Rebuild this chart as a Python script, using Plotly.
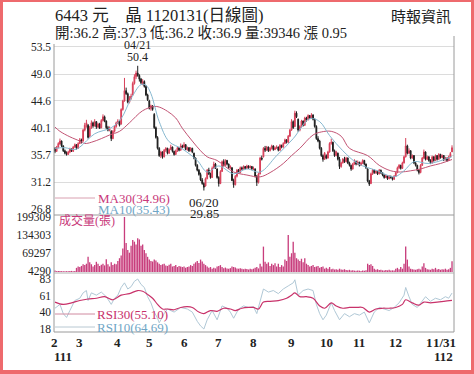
import plotly.graph_objects as go

# ---------------- data ----------------
opens = [36.8,36.3,37.0,37.5,38.0,37.2,36.4,36.0,35.8,36.2,36.7,36.3,37.0,37.4,36.8,
         37.6,38.2,38.0,39.8,40.6,40.6,38.8,40.2,41.0,40.5,41.2,40.3,40.8,40.2,41.4,42.0,41.3,40.2,39.8,39.6,38.4,39.6,40.4,
         41.0,41.3,40.8,43.2,44.6,46.3,45.8,44.4,45.0,45.6,47.5,48.6,49.2,48.8,48.2,47.4,47.8,47.0,45.6,
         44.6,43.4,43.8,42.4,40.2,38.6,36.8,35.6,36.2,35.4,36.5,36.8,36.0,36.6,37.0,36.3,35.8,36.4,36.9,36.5,37.2,
         37.0,37.4,36.6,36.9,36.4,36.8,36.0,35.2,34.0,33.2,32.5,31.6,31.0,30.6,31.8,33.2,32.6,32.0,33.5,34.2,33.4,
         32.0,31.0,33.0,34.6,34.0,34.8,34.2,33.6,33.6,31.5,30.8,32.2,33.2,32.8,33.6,33.4,33.8,33.5,33.9,33.6,33.8,
         33.4,33.4,32.2,31.2,32.6,35.2,35.4,36.8,36.5,37.0,36.4,36.8,37.2,36.6,36.9,37.0,36.5,37.3,37.0,37.6,38.2,37.8,38.8,
         39.8,41.2,40.4,42.6,41.6,39.8,40.4,41.3,40.6,41.8,41.5,42.2,41.8,42.3,41.6,40.4,38.4,38.0,36.8,35.6,35.0,
         35.6,35.2,36.2,37.6,37.8,36.4,35.6,36.0,35.0,33.8,34.4,35.0,34.6,35.2,34.4,34.0,33.4,34.2,34.6,34.2,
         34.5,34.0,34.4,34.8,34.2,33.4,31.4,31.0,32.6,33.2,32.8,33.0,32.6,33.2,32.8,32.4,32.0,32.3,31.8,32.2,32.0,31.7,
         32.2,32.8,33.6,34.0,33.5,34.4,35.4,37.2,36.0,36.4,35.2,35.6,34.4,34.0,33.2,32.8,34.0,35.2,36.2,35.0,35.4,34.8,
         34.4,35.4,34.8,35.6,35.0,35.8,35.3,35.6,34.9,35.2,34.8,35.4,36.2]
highs = [37.0,37.2,37.8,38.4,38.1,37.3,36.6,36.3,36.4,36.9,36.8,37.2,37.6,37.5,37.8,
         38.5,38.4,40.0,41.0,41.5,40.8,40.5,41.4,41.2,41.6,41.3,41.0,41.0,41.6,42.4,42.2,41.4,40.5,40.4,39.8,39.8,40.6,41.2,
         41.6,41.5,43.4,44.8,48.4,46.8,46.0,45.4,45.8,47.8,49.0,49.6,50.4,49.0,48.4,48.2,48.0,47.2,45.8,
         44.8,44.0,43.9,42.6,40.4,38.8,37.0,36.4,36.3,36.7,37.0,36.9,36.8,37.4,37.1,36.4,36.6,37.1,37.0,37.6,37.4,
         37.8,37.5,37.1,37.0,37.0,36.9,36.1,35.3,34.2,33.4,32.8,31.9,31.2,32.0,33.4,33.6,32.8,33.8,34.6,34.4,33.5,
         32.2,33.2,34.8,35.0,35.0,34.9,34.3,34.0,33.7,31.8,32.4,33.4,33.4,33.8,33.8,34.0,33.9,34.1,34.0,34.0,33.9,
         33.8,33.5,32.4,32.8,35.4,35.6,37.0,37.2,37.2,37.1,37.0,37.4,37.3,37.1,37.3,37.1,37.5,37.4,37.8,38.4,38.3,39.0,40.0,
         41.6,41.4,43.0,42.9,41.7,40.6,41.5,41.4,42.0,42.0,42.4,42.3,42.6,42.4,41.7,40.6,38.8,38.2,37.0,35.8,36.2,
         35.8,36.4,37.8,38.4,37.9,36.6,36.4,36.1,35.4,34.6,35.2,35.4,35.4,35.3,34.6,34.1,34.4,35.0,34.8,34.8,
         34.6,34.6,35.0,34.9,34.3,33.5,31.6,32.8,33.4,33.3,33.2,33.1,33.4,33.3,32.9,32.5,32.5,32.4,32.4,32.3,32.1,32.4,
         33.0,33.8,34.2,34.1,34.6,35.6,38.5,37.4,36.8,36.5,35.8,35.7,34.6,34.1,33.4,34.2,35.4,36.6,36.3,35.6,35.5,35.0,
         35.6,35.5,35.8,35.7,36.0,35.9,35.8,35.7,35.4,35.3,35.6,36.2,37.3]
lows = [36.0,36.2,36.8,37.4,37.0,36.2,35.8,35.6,35.7,36.0,36.2,36.2,36.9,36.6,36.7,
        37.5,37.6,37.9,39.6,40.2,38.4,38.6,40.0,40.2,40.4,40.0,40.1,40.0,40.1,41.2,41.1,40.0,39.6,39.6,38.0,38.3,39.4,40.2,
        40.8,40.4,40.7,43.0,44.5,45.6,44.2,44.2,44.8,45.5,47.3,48.2,48.6,47.8,47.4,47.2,46.8,45.4,44.6,
        43.2,43.0,43.0,40.0,38.4,36.6,35.4,35.2,35.1,35.3,36.2,35.8,35.9,36.5,36.1,35.6,35.7,36.2,36.3,36.4,36.8,
        36.9,36.5,36.4,36.2,36.3,36.0,35.0,33.8,33.0,32.3,31.4,30.8,29.85,30.5,31.7,32.4,31.8,31.9,33.4,33.4,31.8,
        30.5,30.9,32.9,33.8,33.9,34.0,33.4,33.4,31.4,30.3,30.7,32.0,32.6,32.7,33.2,33.3,33.3,33.4,33.4,33.5,33.2,
        33.2,32.0,30.6,31.0,32.5,34.8,35.3,36.2,36.4,36.2,36.3,36.6,36.4,36.5,36.7,36.3,36.4,36.8,36.9,37.5,37.6,37.7,38.7,
        39.7,40.0,40.3,41.8,39.5,39.6,40.2,40.4,40.5,41.2,41.4,41.6,41.7,41.4,40.2,38.2,37.8,36.6,35.4,34.6,34.9,
        35.0,35.1,36.1,37.4,36.2,35.4,35.5,34.8,33.4,33.6,34.3,34.4,34.5,34.2,33.8,33.1,33.3,34.1,34.0,34.1,
        33.8,33.9,34.2,34.0,33.4,31.2,30.6,30.9,32.4,32.6,32.6,32.4,32.5,32.6,32.2,31.8,31.9,31.6,31.7,31.8,31.5,31.6,
        32.1,32.7,33.4,33.3,33.4,34.3,35.3,35.8,35.9,35.0,35.1,34.2,33.8,33.0,32.5,32.7,33.9,35.0,34.8,34.9,34.6,34.2,
        34.3,34.6,34.7,34.8,34.9,35.1,35.2,34.7,34.8,34.6,34.7,35.3,36.2]
closes = [36.3,37.0,37.6,38.0,37.2,36.4,36.0,35.8,36.2,36.7,36.4,37.0,37.4,36.8,37.6,
          38.2,37.9,39.8,40.6,41.0,38.6,40.2,41.0,40.5,41.2,40.3,40.8,40.1,41.4,42.0,41.3,40.2,39.8,40.0,38.4,39.6,40.4,41.0,
          41.3,40.6,43.2,44.6,46.3,45.8,44.4,45.0,45.4,47.5,48.6,49.2,48.8,48.2,47.6,47.8,47.0,45.6,44.8,
          43.4,43.8,43.2,40.2,38.6,36.8,35.6,36.2,35.4,36.5,36.8,36.0,36.6,37.0,36.3,35.8,36.4,36.9,36.5,37.2,37.0,
          37.4,36.6,36.9,36.4,36.8,36.2,35.2,34.0,33.2,32.5,31.6,31.0,30.4,31.8,33.2,32.6,32.0,33.5,34.2,33.6,32.0,
          31.0,33.0,34.6,34.0,34.8,34.2,33.6,33.8,31.5,30.8,32.2,33.2,32.8,33.6,33.4,33.8,33.5,33.9,33.6,33.8,33.4,
          33.5,32.2,31.2,32.6,35.2,35.0,36.8,36.5,37.0,36.4,36.8,37.2,36.6,36.9,37.0,36.5,37.3,37.0,37.6,38.2,37.8,38.8,39.8,
          41.2,40.2,42.6,42.0,39.8,40.4,41.3,40.6,41.8,41.5,42.2,41.8,42.3,41.6,40.4,38.4,38.0,36.8,35.6,35.0,36.0,
          35.2,36.2,37.6,37.8,36.4,35.6,36.2,35.0,33.8,34.4,35.0,34.6,35.2,34.4,34.0,33.4,34.2,34.6,34.2,34.5,
          34.0,34.4,34.8,34.2,33.6,31.4,30.9,32.6,33.2,32.8,33.0,32.6,33.2,32.8,32.4,32.0,32.3,31.8,32.2,32.0,31.7,32.2,
          32.8,33.6,34.0,33.5,34.4,35.4,37.2,36.0,36.4,35.2,35.6,34.4,34.0,33.2,32.8,34.0,35.2,36.2,35.0,35.4,34.8,34.4,
          35.4,34.8,35.6,35.0,35.8,35.3,35.6,34.9,35.2,34.8,35.4,35.95,36.9]
volumes = [5000,3000,4000,3500,3000,3000,2500,3000,2500,3500,4000,3000,3500,15000,20000,
           18000,22000,28000,25000,30000,55000,35000,28000,20000,25000,37000,30000,22000,26000,30000,24000,46000,28000,20000,35000,25000,30000,28000,
           40000,50000,60000,85000,199309,105000,80000,70000,95000,116000,110000,100000,122000,118000,95000,100000,80000,68000,55000,
           45000,40000,38000,45000,42000,35000,30000,25000,28000,30000,24000,22000,26000,30000,20000,22000,25000,18000,22000,20000,18000,
           20000,15000,18000,20000,25000,22000,30000,35000,40000,33000,45000,38000,30000,25000,20000,15000,18000,12000,15000,13000,20000,
           22000,25000,18000,14000,16000,13000,12000,14000,20000,18000,16000,13000,12000,14000,12000,10000,12000,11000,9000,12000,10000,
           12000,15000,18000,13000,30000,20000,92000,37000,30000,35000,22000,30000,25000,32000,20000,30000,18000,25000,20000,45000,40000,134000,55000,
           68000,110000,70000,50000,45000,40000,48000,35000,50000,30000,25000,20000,22000,25000,18000,20000,22000,15000,18000,20000,12000,
           15000,12000,18000,10000,12000,9000,10000,8000,12000,9000,8000,10000,7000,6000,8000,5000,6000,5000,4500,5000,
           5000,4000,5000,4500,6000,30000,25000,28000,22000,12000,8000,10000,7000,8000,6000,5000,7000,6000,8000,5000,6000,5000,
           12000,15000,10000,18000,12000,30000,92000,45000,20000,12000,10000,9000,8000,10000,12000,9000,20000,32000,15000,10000,9000,8000,
           12000,10000,15000,9000,11000,8000,10000,9000,12000,8000,10000,15000,39346]

ma30_idx = [0,3,9,15,18,22,28,33,39,45,53,60,63,68,73,77,83,88,92,98,103,108,116,124,130,138,143,148,156,161,167,173,178,189,196,203,209,215,221,227,233,240]
ma30_val = [40.3,39.6,38.7,38.0,37.6,37.8,38.4,39.0,39.6,41.0,43.0,43.7,43.6,42.9,41.8,40.1,38.0,36.4,35.4,34.8,33.8,32.9,32.4,32.1,32.8,34.3,35.6,36.8,39.0,39.5,39.6,38.8,36.8,35.6,34.0,33.1,32.9,33.1,33.4,33.9,34.3,34.96]
ma10_idx = [0,6,12,15,24,34,40,46,52,55,58,63,69,77,86,92,99,108,116,124,134,144,154,160,166,174,183,195,205,211,217,226,240]
ma10_val = [36.8,36.9,36.6,37.0,39.2,40.2,41.7,45.0,47.3,47.2,45.8,41.2,37.9,36.7,34.8,32.9,33.9,32.6,33.4,32.9,35.6,38.4,41.7,41.2,38.9,36.4,34.3,33.1,32.1,33.1,34.6,34.3,35.43]

rsi10_idx = [0,3,5,7,9,12,15,17,19,20,22,25,28,31,34,36,38,40,42,44,46,48,50,52,54,56,58,60,62,63,66,68,72,76,80,83,86,88,90,92,95,98,101,104,106,108,111,114,117,120,122,124,126,129,132,135,138,141,144,145,147,150,153,156,158,160,162,164,167,169,172,175,178,181,184,187,189,190,193,196,199,202,205,208,211,212,214,216,219,222,224,227,230,233,236,238,240]
rsi10_val = [45,50,38,33,42,55,58,65,68,55,65,62,66,60,50,58,62,72,78,70,73,80,83,76,72,60,52,40,32,26,38,44,40,46,44,40,28,22,18,30,42,30,48,45,40,32,44,48,46,47,38,55,70,66,68,64,70,74,78,82,62,68,70,68,50,38,30,36,52,42,30,38,34,38,36,40,32,26,40,46,44,42,46,52,62,72,60,50,46,55,60,54,58,56,60,58,64.69]
rsi30_idx = [0,5,10,15,20,25,30,35,40,45,50,53,56,59,62,65,68,72,76,80,83,87,90,94,98,102,106,109,113,117,120,123,126,130,135,140,143,145,148,152,156,160,163,167,170,174,178,182,186,190,194,198,202,206,210,212,216,220,223,227,231,235,240]
rsi30_val = [53,50,52,55,57,58,60,56,62,64,68,67,63,58,50,44,44,43,46,47,46,40,38,42,41,45,44,42,45,46,46,44,53,54,55,58,62,65,60,60,58,48,45,52,48,45,46,46,46,40,44,45,45,46,50,56,52,49,53,52,53,54,55.10]

month_idx = [0,15,38,57,78,99,120,143,164,184,206,228]
month_lbl = ["2","3","4","5","6","7","8","9","10","11","12","1"]
price_ticks = [26.8,31.2,35.7,40.1,44.6,49.0,53.5]
vol_ticks = [4290,69297,134303,199309]
rsi_ticks = [18,40,61,83]

header1 = "6443 元　晶 1120131(日線圖)"
header2 = "開:36.2 高:37.3 低:36.2 收:36.9 量:39346 漲 0.95"
source = "時報資訊"

# ---------------- styling ----------------
SERIF = "Liberation Serif, Noto Sans CJK TC, serif"
RED = "#d8405a"
BLK = "#1e1e1e"
MA30C = "#c25474"
MA10C = "#86b8d0"
VOLC = "#c83d7c"
RSI30C = "#c8326a"
RSI10C = "#b0c8d6"
BORDER = "#ee6a6d"

days = list(range(len(closes)))

fig = go.Figure()
fig.add_trace(go.Candlestick(
    x=days, open=opens, high=highs, low=lows, close=closes,
    increasing=dict(line=dict(color=RED, width=1), fillcolor=RED),
    decreasing=dict(line=dict(color=BLK, width=1), fillcolor=BLK),
    whiskerwidth=0, xaxis="x", yaxis="y", showlegend=False, hoverinfo="skip"))
fig.add_trace(go.Scatter(x=ma30_idx, y=ma30_val, mode="lines", line=dict(color=MA30C, width=1, shape="spline"),
                         xaxis="x", yaxis="y", showlegend=False, hoverinfo="skip"))
fig.add_trace(go.Scatter(x=ma10_idx, y=ma10_val, mode="lines", line=dict(color=MA10C, width=1, shape="spline"),
                         xaxis="x", yaxis="y", showlegend=False, hoverinfo="skip"))
fig.add_trace(go.Bar(x=days, y=volumes, marker=dict(color=VOLC, line=dict(width=0)),
                     xaxis="x", yaxis="y2", showlegend=False, hoverinfo="skip"))
fig.add_trace(go.Scatter(x=rsi10_idx, y=rsi10_val, mode="lines", line=dict(color=RSI10C, width=1),
                         xaxis="x", yaxis="y3", showlegend=False, hoverinfo="skip"))
fig.add_trace(go.Scatter(x=rsi30_idx, y=rsi30_val, mode="lines", line=dict(color=RSI30C, width=1.2, shape="spline"),
                         xaxis="x", yaxis="y3", showlegend=False, hoverinfo="skip"))

# pixel helpers (plot area: x 54..454, y 44..332)
def pxx(x):
    return (x - 54) / 400.0
def pyy(y):
    return (332 - y) / 288.0

tickfont = dict(family=SERIF, size=11.5, color="#222")
fig.update_layout(
    width=474, height=374,
    margin=dict(l=54, r=20, t=44, b=42),
    paper_bgcolor="white", plot_bgcolor="white",
    bargap=0.2,
    xaxis=dict(range=[-0.6, 241.2], domain=[0, 1], anchor="y3",
               tickvals=month_idx, ticktext=month_lbl, showticklabels=False,
               showgrid=False, zeroline=False, showline=False,
               rangeslider=dict(visible=False), fixedrange=True),
    yaxis=dict(domain=[pyy(210), 1], range=[26.64, 53.99], tickvals=price_ticks,
               ticktext=[f"{v:.1f}" for v in price_ticks], tickfont=tickfont,
               showgrid=True, gridcolor="#dcdcdc", gridwidth=1, zeroline=False,
               showline=False, ticks="", ticklabelstandoff=2),
    yaxis2=dict(domain=[pyy(273), pyy(215)], range=[-3624, 206557], tickvals=vol_ticks,
                ticktext=[str(v) for v in vol_ticks], tickfont=tickfont,
                showgrid=False, zeroline=False, showline=False, ticks="", ticklabelstandoff=2),
    yaxis3=dict(domain=[0, pyy(274)], range=[14.1, 89.5], tickvals=rsi_ticks,
                ticktext=[str(v) for v in rsi_ticks], tickfont=tickfont,
                showgrid=False, zeroline=False, showline=False, ticks="", ticklabelstandoff=2),
)

shapes = []
line_gray = dict(color="#9a9a9a", width=1)
# frame lines
shapes.append(dict(type="line", xref="paper", yref="paper", x0=0, x1=0, y0=0, y1=pyy(44), line=line_gray))
shapes.append(dict(type="line", xref="paper", yref="paper", x0=1, x1=1, y0=0, y1=pyy(36), line=line_gray))
shapes.append(dict(type="line", xref="paper", yref="paper", x0=0, x1=1, y0=0, y1=0, line=line_gray))
shapes.append(dict(type="line", xref="paper", yref="paper", x0=0, x1=1, y0=pyy(215), y1=pyy(215), line=line_gray))
shapes.append(dict(type="line", xref="paper", yref="paper", x0=0, x1=1, y0=pyy(273), y1=pyy(273), line=dict(color="#b0b0b0", width=1)))
# legend segments
shapes.append(dict(type="line", xref="paper", yref="paper", x0=pxx(55), x1=pxx(95), y0=pyy(198), y1=pyy(198), line=dict(color="#d9a0b0", width=1)))
shapes.append(dict(type="line", xref="paper", yref="paper", x0=pxx(55), x1=pxx(95), y0=pyy(314), y1=pyy(314), line=dict(color="#d08aa0", width=1)))
shapes.append(dict(type="line", xref="paper", yref="paper", x0=pxx(55), x1=pxx(95), y0=pyy(327), y1=pyy(327), line=dict(color="#b8c8d2", width=1)))
# pink border of the picture
for (x0, x1, y0, y1) in [(0, 3, 0, 374), (471, 474, 0, 374), (0, 474, 0, 2), (0, 474, 370, 374)]:
    shapes.append(dict(type="rect", xref="paper", yref="paper", x0=pxx(x0), x1=pxx(x1),
                       y0=pyy(y1), y1=pyy(y0), fillcolor=BORDER, line=dict(width=0), layer="above"))
fig.update_layout(shapes=shapes)

ann = []
def txt(x, y, s, size=12, color="#222", xanchor="center"):
    ann.append(dict(xref="paper", yref="paper", x=pxx(x), y=pyy(y), text=s, showarrow=False,
                    xanchor=xanchor, yanchor="middle", font=dict(family=SERIF, size=size, color=color)))

txt(53, 16, header1, size=16.5, xanchor="left")
txt(53, 33, header2, size=14.5, xanchor="left")
txt(453, 17, source, size=15, xanchor="right")
txt(137, 45, "04/21", size=12)
txt(137, 57, "50.4", size=12)
txt(204, 202, "06/20", size=13)
txt(204, 213, "29.85", size=13)
txt(96, 198, "MA30(34.96)", size=13, color="#c8387a", xanchor="left")
txt(96, 209, "MA10(35.43)", size=13, color="#6fa6c6", xanchor="left")
txt(57, 220, "成交量(張)", size=12, color="#c8387a", xanchor="left")
txt(95, 314, "RSI30(55.10)", size=13, color="#c8306a", xanchor="left")
txt(95, 327, "RSI10(64.69)", size=13, color="#6fa6c6", xanchor="left")
# month labels along the bottom axis (data x positions)
for i, lb in zip(month_idx, month_lbl):
    shift = -3 if i == month_idx[-1] else 0
    ann.append(dict(xref="x", yref="paper", x=i, xshift=shift, y=pyy(342), text=f"<b>{lb}</b>", showarrow=False,
                    xanchor="center", yanchor="middle", font=dict(family=SERIF, size=13, color="#222")))
ann.append(dict(xref="x", yref="paper", x=len(closes) - 1, xshift=6, y=pyy(342), text="<b>1/31</b>", showarrow=False,
                xanchor="right", yanchor="middle", font=dict(family=SERIF, size=13, color="#222")))
ann.append(dict(xref="x", yref="paper", x=month_idx[0], xshift=-3, y=pyy(356), text="<b>111</b>", showarrow=False,
                xanchor="left", yanchor="middle", font=dict(family=SERIF, size=13, color="#222")))
ann.append(dict(xref="x", yref="paper", x=month_idx[-1], xshift=0, y=pyy(356), text="<b>112</b>", showarrow=False,
                xanchor="left", yanchor="middle", font=dict(family=SERIF, size=13, color="#222")))
fig.update_layout(annotations=ann)

fig.write_html("out.html", config={"displayModeBar": False, "staticPlot": True},
               post_script="document.body.style.margin='0';document.body.style.padding='0';")
